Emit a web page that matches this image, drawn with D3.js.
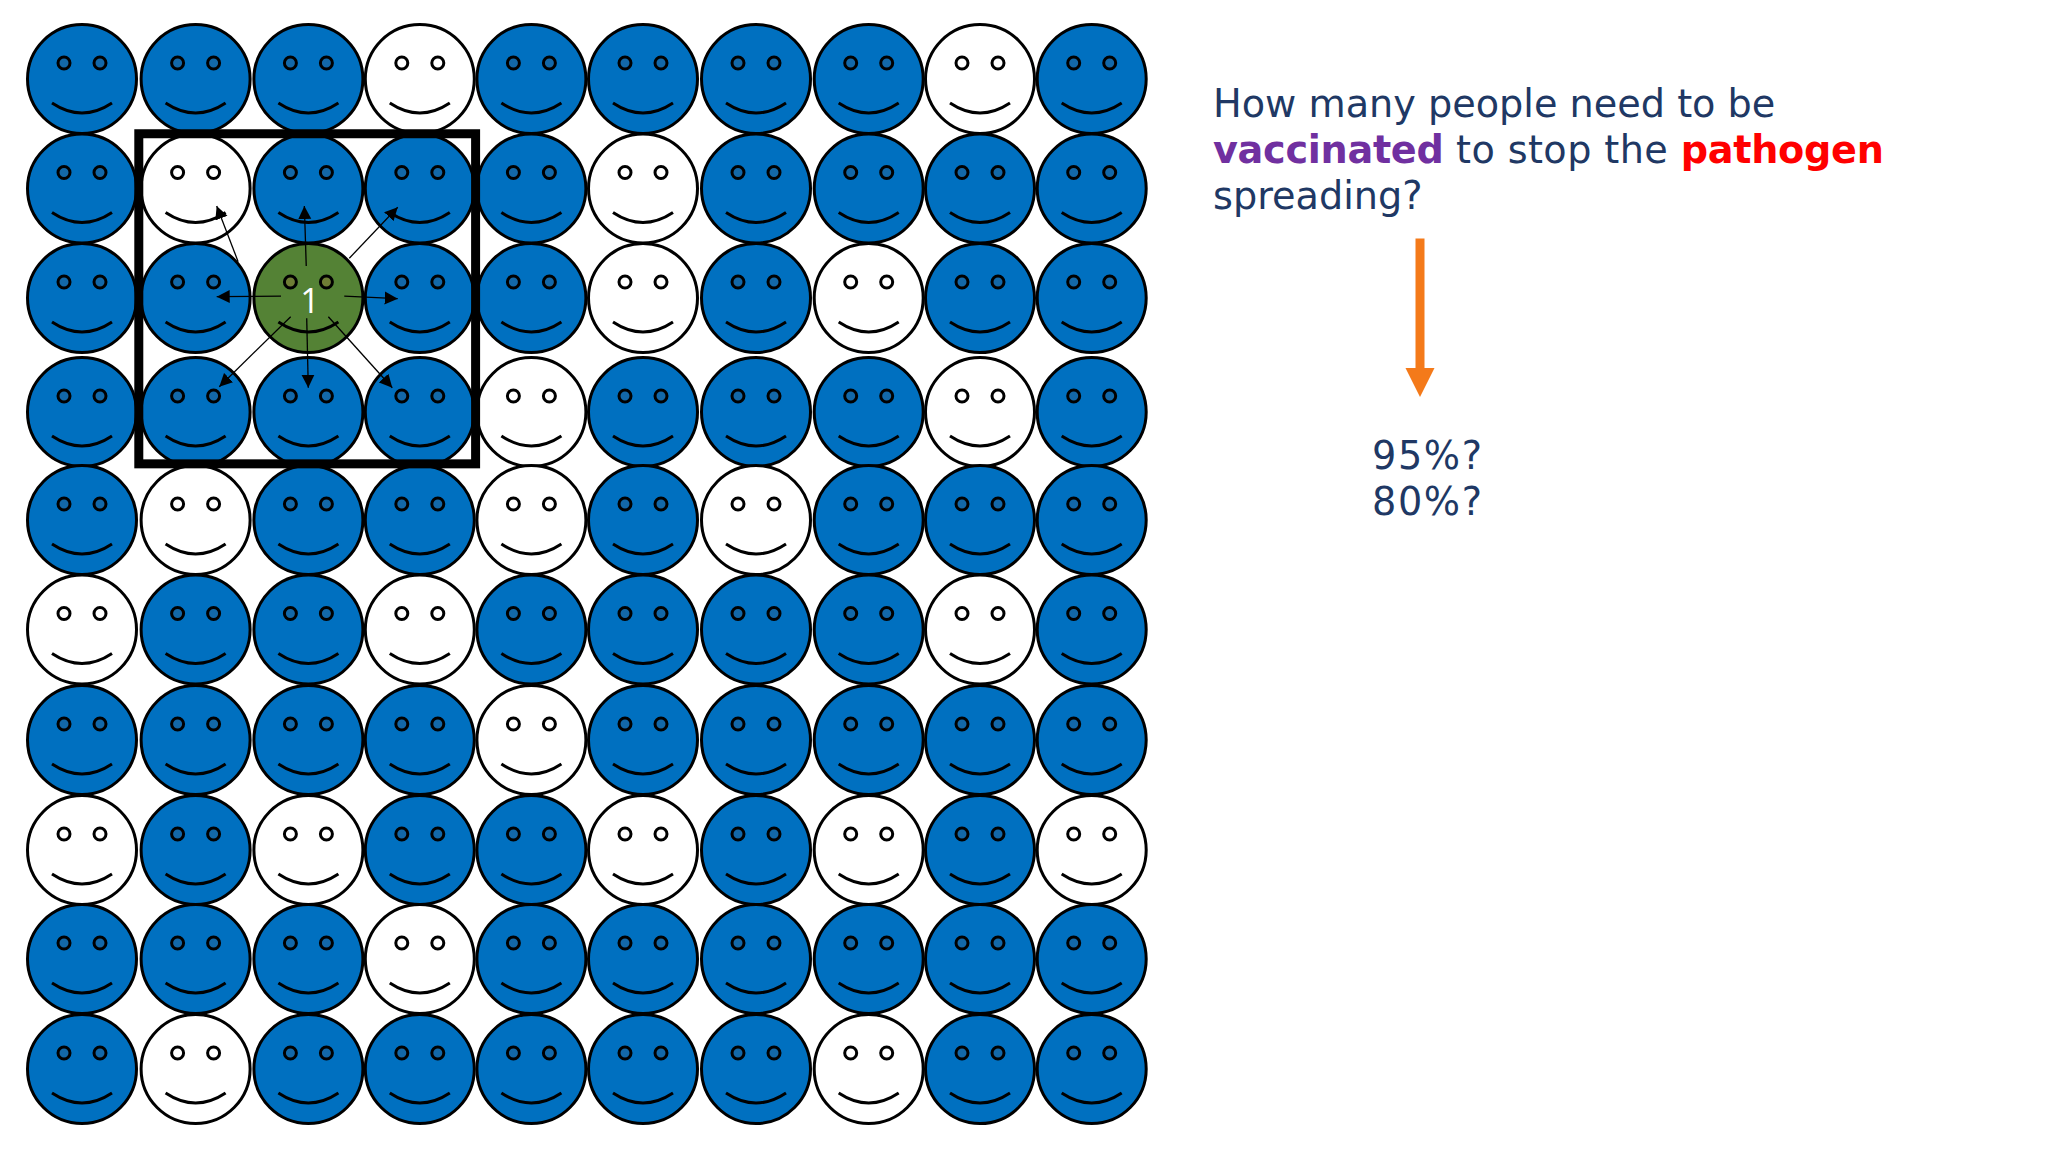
<!DOCTYPE html>
<html>
    <head>
        <meta charset="utf-8">
        <title>Herd immunity faces</title>
        <style>
            body{
                margin: 0;
                background-color: white;
            }
            svg{
                display: block;
            }
        </style>
        <script src="https://d3js.org/d3.v7.min.js"></script>
    </head>
    <body>
    </body>
    <script>
        let width = 2048
        let height = 1152

        // 0 = vaccinated (blue), 1 = not vaccinated (white), 2 = infected (green)
        let row0 = [0,0,0,1,0,0,0,0,1,0]
        let row1 = [0,1,0,0,0,1,0,0,0,0]
        let row2 = [0,0,2,0,0,1,0,1,0,0]
        let row3 = [0,0,0,0,1,0,0,0,1,0]
        let row4 = [0,1,0,0,1,0,1,0,0,0]
        let row5 = [1,0,0,1,0,0,0,0,1,0]
        let row6 = [0,0,0,0,1,0,0,0,0,0]
        let row7 = [1,0,1,0,0,1,0,1,0,1]
        let row8 = [0,0,0,1,0,0,0,0,0,0]
        let row9 = [0,1,0,0,0,0,0,1,0,0]
        let rows = [row0,row1,row2,row3,row4,row5,row6,row7,row8,row9]

        // arrows out of the infected face, in grid units [col, row]
        let arrowStarts = [[1.377,1.668],[1.981,1.708],[2.367,1.637],[1.757,1.982],[2.322,1.982],[1.843,2.164],[1.985,2.178],[2.179,2.164]]
        let arrowTips = [[1.187,1.160],[1.964,1.160],[2.802,1.171],[1.187,1.988],[2.802,2.006],[1.210,2.778],[1.999,2.787],[2.753,2.787]]

        // neighbourhood box, in grid units
        let boxCols = [0.5,3.5]
        let boxRows = [0.5,3.48]

        let question = [
            [["How many people need to be","#203864",400]],
            [["vaccinated","#7030A0",700],[" to stop the ","#203864",400],["pathogen","#FF0000",700]],
            [["spreading?","#203864",400]]
        ]
        let answers = ["95%?","80%?"]

        let faceColor = ["#0070C0","white","#548235"]
        let eyeColor = ["#1368A8","white","#6E7D35"]

        let x = d3.scaleLinear()
                    .domain(d3.range(10))
                    .range([82,195.6,308.4,419.8,531.4,643,756,868.7,980,1091.7])
        let y = d3.scaleLinear()
                    .domain(d3.range(10))
                    .range([79,188.5,298,412,520,629.5,740,850,959,1069])

        let svg = d3.select("body")
                    .append("svg")
                    .attr("width", width)
                    .attr("height", height)

        svg.append("defs")
            .append("marker")
            .attr("id", "head")
            .attr("markerUnits", "userSpaceOnUse")
            .attr("markerWidth", 14)
            .attr("markerHeight", 14)
            .attr("refX", 13)
            .attr("refY", 7)
            .attr("orient", "auto")
            .append("path")
            .attr("d", "M0,0.5L13,7L0,13.5Z")
            .attr("fill", "black")

        let cells = rows.flatMap((row, r) => row.map((state, c) => ({r: r, c: c, state: state})))

        let faces = svg.append("g")
                        .selectAll("g")
                        .data(cells)
                        .enter()
                        .append("g")
                        .attr("transform", (d) => `translate(${x(d.c)},${y(d.r)})`)

        faces.append("circle")
            .attr("r", 54.5)
            .attr("fill", (d) => faceColor[d.state])
            .attr("stroke", "black")
            .attr("stroke-width", 3)

        faces.selectAll(".eye")
            .data((d) => [-18,18].map((dx) => ({dx: dx, state: d.state})))
            .enter()
            .append("circle")
            .attr("class", "eye")
            .attr("cx", (d) => d.dx)
            .attr("cy", -16)
            .attr("r", 6)
            .attr("fill", (d) => eyeColor[d.state])
            .attr("stroke", "black")
            .attr("stroke-width", 3)

        faces.append("path")
            .attr("d", "M-30,24Q0,44 30,24")
            .attr("fill", "none")
            .attr("stroke", "black")
            .attr("stroke-width", 3)

        svg.append("rect")
            .attr("x", x(boxCols[0]))
            .attr("y", y(boxRows[0]))
            .attr("width", x(boxCols[1]) - x(boxCols[0]))
            .attr("height", y(boxRows[1]) - y(boxRows[0]))
            .attr("fill", "none")
            .attr("stroke", "black")
            .attr("stroke-width", 9)

        svg.append("g")
            .selectAll("line")
            .data(arrowStarts)
            .enter()
            .append("line")
            .attr("x1", (d) => x(d[0]))
            .attr("y1", (d) => y(d[1]))
            .attr("x2", (d, i) => x(arrowTips[i][0]))
            .attr("y2", (d, i) => y(arrowTips[i][1]))
            .attr("stroke", "black")
            .attr("stroke-width", 1.3)
            .attr("marker-end", "url(#head)")

        svg.append("text")
            .attr("x", x(2) + 1.5)
            .attr("y", y(2) + 15)
            .attr("text-anchor", "middle")
            .attr("font-family", "Open Sans")
            .attr("font-size", 34)
            .attr("fill", "white")
            .text("1")

        let questionText = svg.append("text")
                                .attr("font-family", "DejaVu Sans")
                                .attr("font-size", 38.2)

        question.forEach((line, i) => {
            line.forEach((part, j) => {
                let span = questionText.append("tspan")
                                .attr("fill", part[1])
                                .attr("font-weight", part[2])
                                .attr("letter-spacing", part[2] === 700 ? -0.3 : (line.length > 1 ? 0.4 : 0))
                                .style("white-space", "pre")
                                .text(part[0])
                if(j === 0) span.attr("x", 1213).attr("y", 117 + i*46)
            })
        })

        svg.append("rect")
            .attr("x", 1415.5)
            .attr("y", 238.5)
            .attr("width", 9)
            .attr("height", 131)
            .attr("fill", "#F47A1A")

        svg.append("path")
            .attr("d", "M1405.5,368L1434.5,368L1420,397Z")
            .attr("fill", "#F47A1A")

        svg.append("g")
            .selectAll("text")
            .data(answers)
            .enter()
            .append("text")
            .attr("x", 1372)
            .attr("y", (d, i) => 469 + i*46)
            .attr("font-family", "DejaVu Sans")
            .attr("font-size", 38.2)
            .attr("letter-spacing", 1.6)
            .attr("fill", "#203864")
            .text((d) => d)
    </script>
</html>
